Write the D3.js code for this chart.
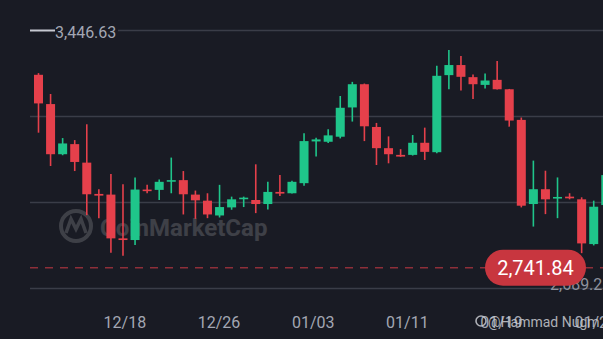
<!DOCTYPE html>
<html>
<head>
<meta charset="utf-8">
<script src="https://cdn.jsdelivr.net/npm/d3@7"></script>
<style>
  html, body { margin: 0; padding: 0; background: #191b24; }
  svg { display: block; font-family: Roboto, "Noto Sans", sans-serif; }
</style>
</head>
<body>
<svg id="chart"></svg>
<script>
// daily candles, 12/11 .. 01/27
const dates = ["12/11","12/12","12/13","12/14","12/15","12/16","12/17","12/18","12/19","12/20",
  "12/21","12/22","12/23","12/24","12/25","12/26","12/27","12/28","12/29","12/30","12/31",
  "01/01","01/02","01/03","01/04","01/05","01/06","01/07","01/08","01/09","01/10","01/11",
  "01/12","01/13","01/14","01/15","01/16","01/17","01/18","01/19","01/20","01/21","01/22",
  "01/23","01/24","01/25","01/26","01/27"];
const open  = [3315,3228,3079,3109,3054,2961,2959,2829,2824,2974,2973,2998,3002,2959,2941,2897,2921,2946,2943,2931,2967,2963,2993,3117,3116,3131,3218,3287,3160,3097,3077,3077,3113,3085,3314,3344,3308,3285,3300,3272,3181,2931,2975,2949,2953,2945,2812,2928];
const high  = [3320,3258,3127,3121,3168,2975,3020,2990,3010,2988,3004,3069,3029,2971,2963,2988,2953,2953,3049,2997,3017,3000,3141,3128,3153,3252,3294,3289,3172,3132,3094,3136,3158,3342,3389,3371,3316,3319,3356,3273,3188,3060,3030,3010,2963,2951,2941,3026];
const low   = [3143,3044,3076,3029,2898,2889,2786,2777,2809,2963,2943,2963,2900,2887,2889,2891,2914,2922,2904,2915,2955,2962,2985,3072,3112,3126,3176,3118,3047,3052,3071,3075,3062,3082,3272,3268,3243,3274,3271,3161,2921,2864,2901,2889,2945,2785,2808,2913];
const close = [3230,3079,3111,3056,2960,2956,2829,2824,2974,2970,2997,3002,2960,2942,2900,2922,2945,2950,2931,2967,2962,2997,3118,3123,3135,3217,3287,3162,3097,3079,3072,3113,3086,3312,3344,3309,3287,3298,3272,3179,2926,2975,2945,2952,2948,2814,2923,3017];

const tickDates = ["12/18","12/26","01/03","01/11","01/19","01/27"];
const gridPrices = [3446.63, 3191.1, 2935.6, 2680];
const highLabel = "3,446.63";
const lowLabel = "2,689.2";
const lastPrice = 2741.84;

const width = 603, height = 339;
const upColor = "#1fc58a", downColor = "#e5404b";

const candles = dates.map((d, i) => ({ date: d, o: open[i], h: high[i], l: low[i], c: close[i] }));

const svg = d3.select("#chart").attr("width", width).attr("height", height);

svg.append("rect").attr("width", width).attr("height", height).attr("fill", "#191b24");

const x = d3.scalePoint().domain(dates).range([38.5, 38.5 + 47 * 12.07]);
// date labels sit a touch left of the candles in the original
const xLabels = d3.scalePoint().domain(dates).range([42, 42 + 47 * 11.77]);
const y = d3.scaleLinear().domain([2680, 3446.63]).range([288.5, 30.5]);

// gridlines
svg.append("g").selectAll("line")
  .data(gridPrices.slice(1))
  .enter().append("line")
  .attr("x1", 30).attr("x2", width)
  .attr("y1", d => y(d)).attr("y2", d => y(d))
  .attr("stroke", "#3a3d48").attr("stroke-width", 1.5);

svg.append("line")
  .attr("x1", 118).attr("x2", width)
  .attr("y1", y(gridPrices[0])).attr("y2", y(gridPrices[0]))
  .attr("stroke", "#3a3d48").attr("stroke-width", 1.5);

// watermark
const wm = svg.append("g").attr("opacity", 0.16);
wm.append("circle").attr("cx", 76).attr("cy", 226).attr("r", 15)
  .attr("fill", "none").attr("stroke", "#ffffff").attr("stroke-width", 4);
wm.append("path")
  .attr("d", "M66,233 L71,219 L76,229 L81,219 L86,233")
  .attr("fill", "none").attr("stroke", "#ffffff").attr("stroke-width", 3.5);
wm.append("text").attr("x", 100).attr("y", 236)
  .attr("fill", "#ffffff").style("font-size", "24px").style("font-weight", "bold")
  .text("CoinMarketCap");

// current price dashed line
svg.append("line")
  .attr("x1", 30).attr("x2", width)
  .attr("y1", y(lastPrice)).attr("y2", y(lastPrice))
  .attr("stroke", "#8e2f39").attr("stroke-width", 1.5)
  .attr("stroke-dasharray", "8,7");

// candles
const g = svg.append("g").selectAll("g")
  .data(candles)
  .enter().append("g");

g.append("line")
  .attr("x1", d => x(d.date)).attr("x2", d => x(d.date))
  .attr("y1", d => y(d.h)).attr("y2", d => y(d.l))
  .attr("stroke", d => d.c >= d.o ? upColor : downColor)
  .attr("stroke-width", 1.6);

g.append("rect")
  .attr("x", d => x(d.date) - 4.5)
  .attr("width", 9)
  .attr("y", d => y(Math.max(d.o, d.c)))
  .attr("height", d => Math.max(1.6, Math.abs(y(d.o) - y(d.c))))
  .attr("fill", d => d.c >= d.o ? upColor : downColor);

// high marker at top left
svg.append("line")
  .attr("x1", 30).attr("x2", 55)
  .attr("y1", y(gridPrices[0])).attr("y2", y(gridPrices[0]))
  .attr("stroke", "#c6c9d1").attr("stroke-width", 2);
svg.append("text")
  .attr("x", 55).attr("y", y(gridPrices[0]) + 7)
  .attr("fill", "#a3a7b3").style("font-size", "16px")
  .text(highLabel);

// low label at the right edge
svg.append("text")
  .attr("x", 550).attr("y", 290)
  .attr("fill", "#8e929d").style("font-size", "16px")
  .text(lowLabel);

// last price badge
svg.append("rect")
  .attr("x", 485).attr("y", y(lastPrice) - 18)
  .attr("width", 101).attr("height", 36)
  .attr("rx", 18)
  .attr("fill", "#c8363f");
svg.append("text")
  .attr("x", 535.5).attr("y", y(lastPrice) + 7)
  .attr("text-anchor", "middle")
  .attr("fill", "#ffffff").style("font-size", "20px")
  .text(d3.format(",.2f")(lastPrice));

// x axis labels
const axis = svg.append("g")
  .attr("transform", "translate(0,312)")
  .call(d3.axisBottom(xLabels).tickValues(tickDates).tickSize(0).tickPadding(0));
axis.select(".domain").remove();
axis.selectAll("text")
  .attr("dy", "1em")
  .attr("fill", "#a3a7b3")
  .style("font-size", "16px")
  .style("font-family", "Roboto, sans-serif");

// author watermark
const aw = svg.append("g").attr("opacity", 0.85);
aw.append("circle").attr("cx", 481).attr("cy", 321).attr("r", 5)
  .attr("fill", "none").attr("stroke", "#c8cad0").attr("stroke-width", 1.6);
aw.append("text").attr("x", 488).attr("y", 327)
  .attr("fill", "#c8cad0").style("font-size", "14px")
  .text("@Hammad Nugm");
</script>
</body>
</html>
